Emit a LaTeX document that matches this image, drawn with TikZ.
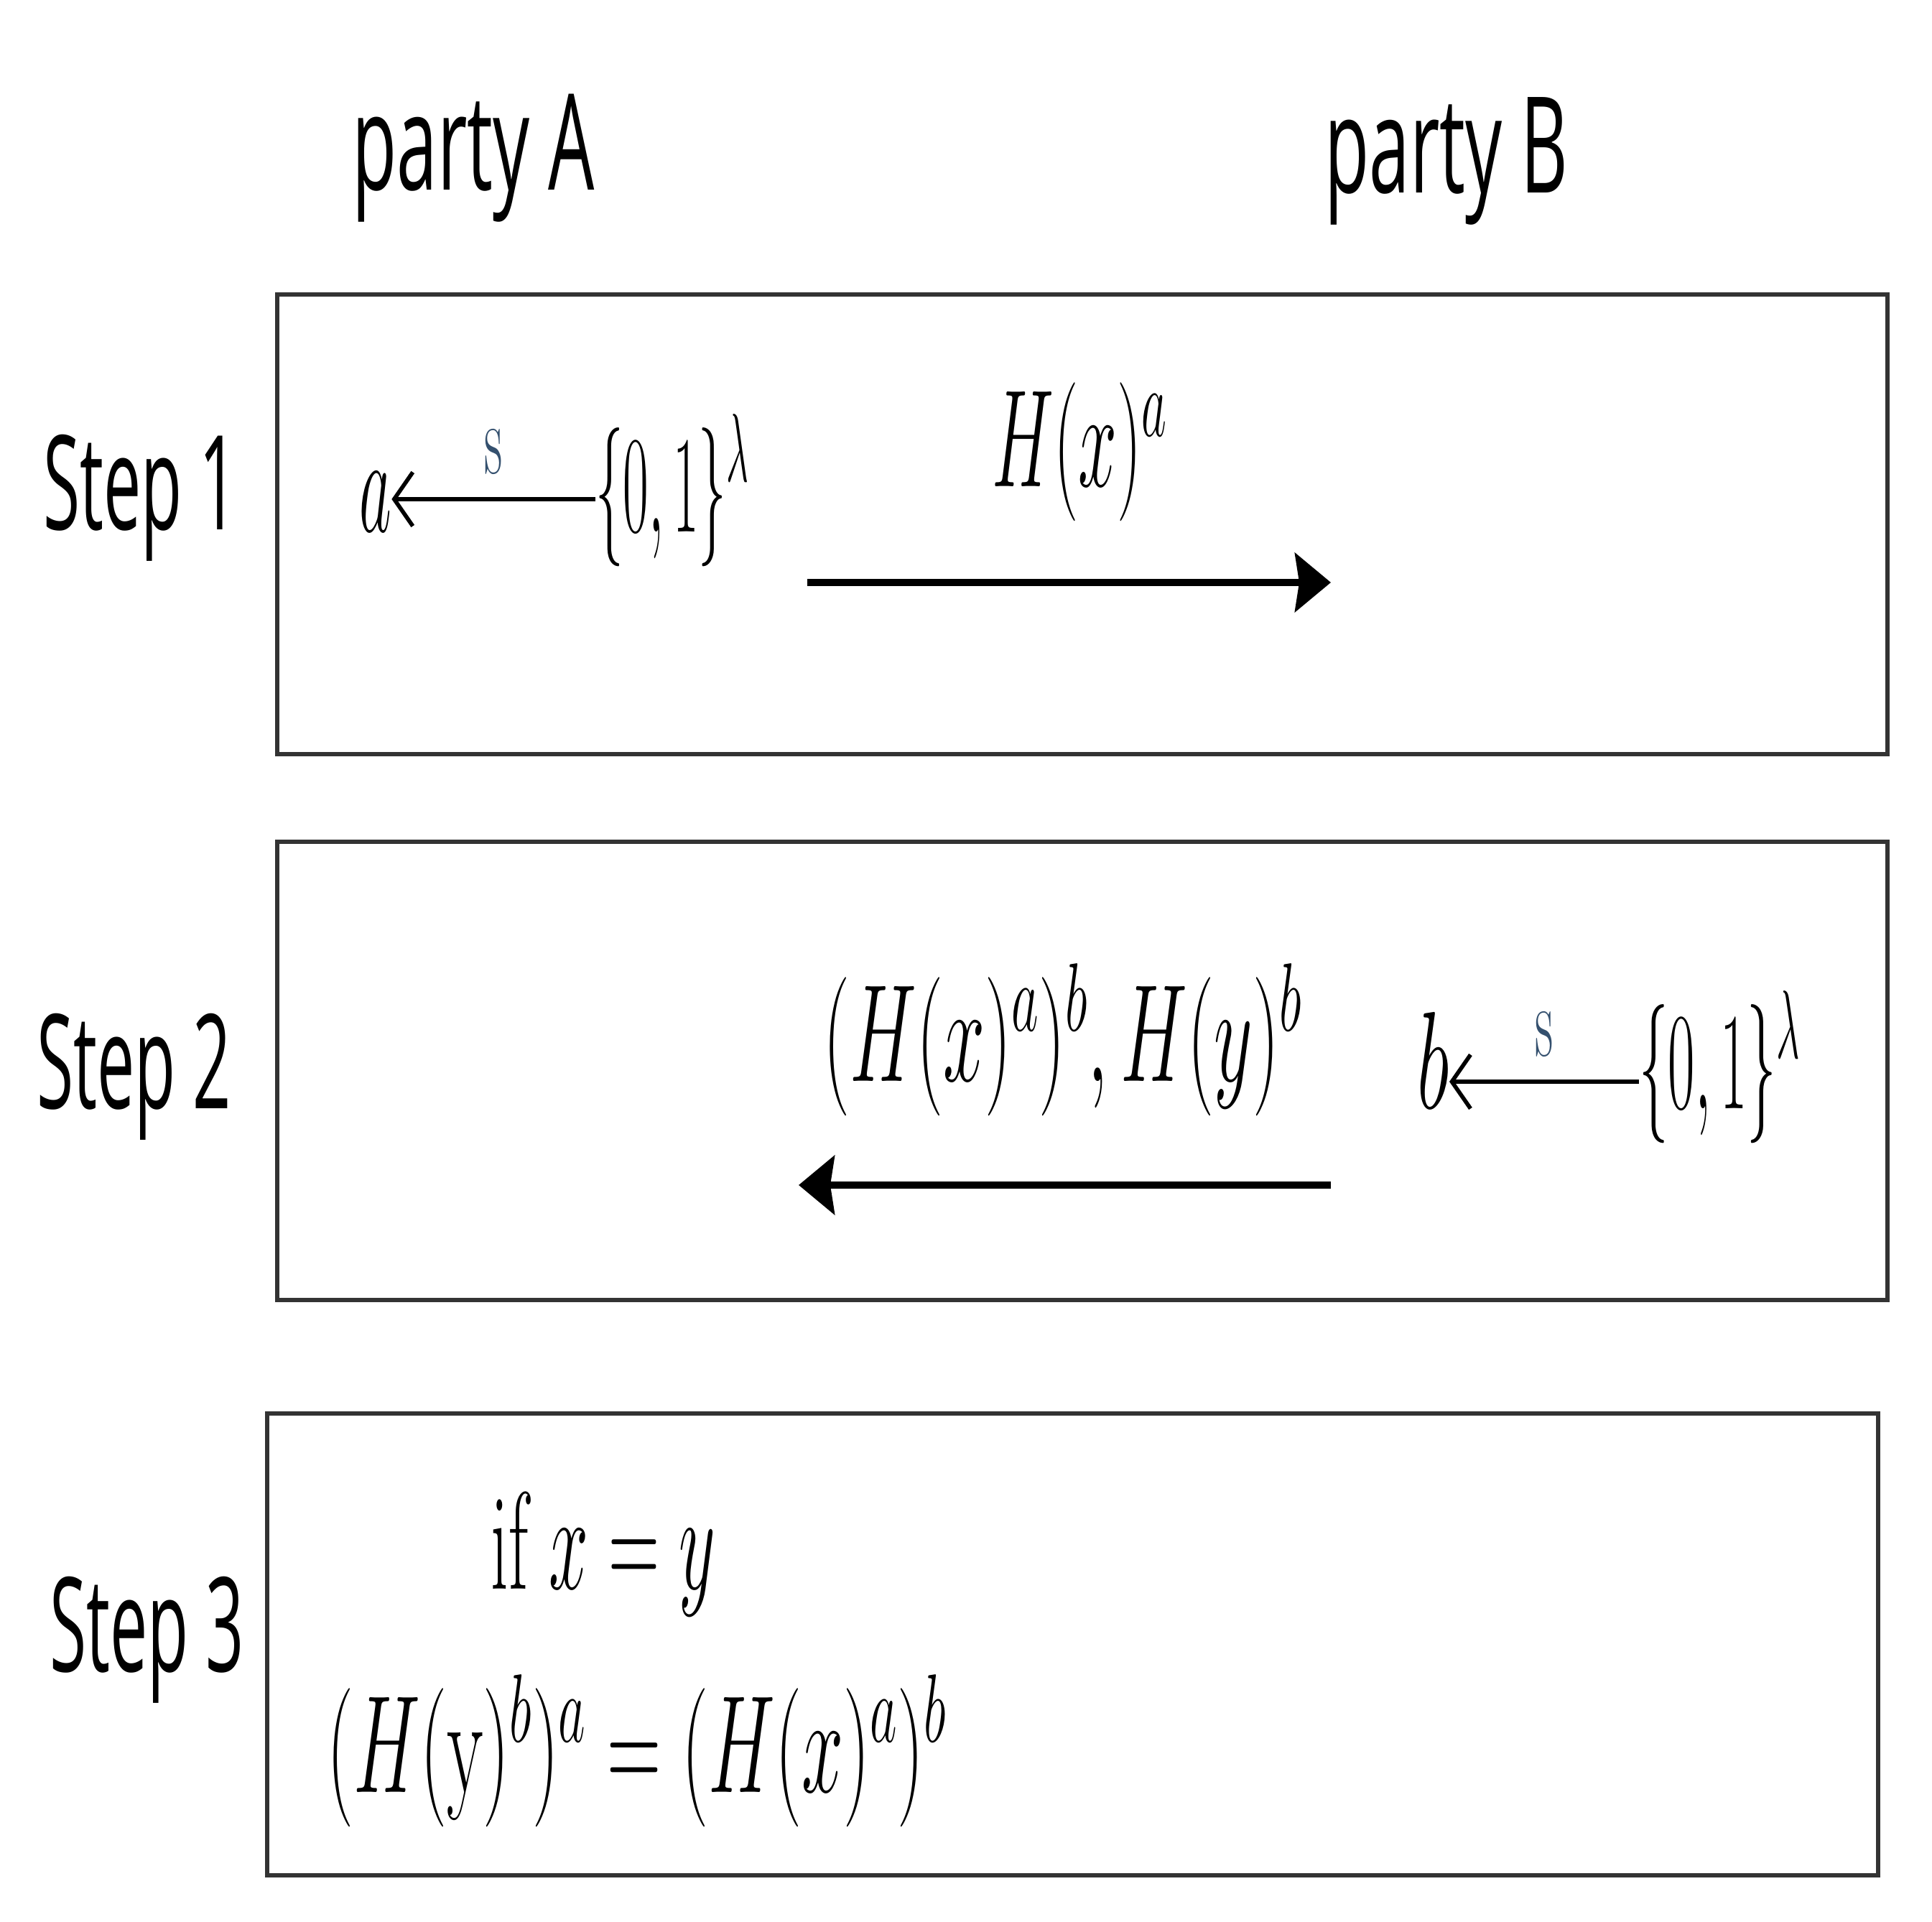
\RequirePackage{fix-cm}
\documentclass[tikz,border=0pt]{standalone}
\usepackage{amsmath}
\usepackage{fontspec}
\newfontfamily\etiq{Open Sans}
\usetikzlibrary{arrows.meta}
\definecolor{azul}{HTML}{34506E}

\begin{document}
\begin{tikzpicture}[
    caja/.style={draw=black!80, line width=1.8pt},
    parte/.style={font=\etiq\fontsize{53}{60}\selectfont, anchor=base west, inner sep=0pt, xscale=0.545},
    paso/.style={font=\etiq\fontsize{52}{60}\selectfont, anchor=base west, inner sep=0pt, xscale=0.51},
    formula/.style={font=\fontsize{55}{60}\selectfont, anchor=base west, inner sep=0pt},
    sello/.style={midway, above=0.32cm, inner sep=0pt, text=azul, font=\fontsize{40}{44}\selectfont, xscale=0.5},
    mensaje/.style={line width=2.8pt, -{Stealth[length=0.5cm, width=0.82cm, inset=0.06cm]}},
    muestra/.style={line width=1.6pt, -{Straight Barb[length=0.26cm, width=0.75cm]}}]
  \useasboundingbox (0,0) rectangle (26.90,26.76);

  % Partes
  \node[parte] (pA) at (4.90,24.11) {party A};
  \node[parte] (pB) at (18.44,24.07) {party B};

  % Pasos
  \node[paso] (s1) at (0.60,19.38) {Step 1};
  \node[paso] (s2) at (0.51,11.32) {Step 2};
  \node[paso] (s3) at (0.69,3.48) {Step 3};

  % Cajas
  \draw[caja] (3.86,16.26) rectangle (26.28,22.66);
  \draw[caja] (3.86,8.66) rectangle (26.28,15.04);
  \draw[caja] (3.72,0.65) rectangle (26.15,7.08);

  % Paso 1: A elige a y manda H(x)^a
  \node[formula, xscale=0.45] (a1) at (5.00,19.35) {$a$};
  \node[formula, xscale=0.40] (r1) at (8.29,19.35) {$\{0,1\}^{\lambda}$};
  \draw[muestra] ([yshift=0.46cm]r1.base west) -- ([yshift=0.46cm]a1.base east) node[sello] {s};
  \node[formula, xscale=0.50] (h1) at (13.81,19.98) {$H(x)^{a}$};
  \coordinate (m1a) at (11.24,18.65);
  \coordinate (m1b) at (18.53,18.65);
  \draw[mensaje] (m1a) -- (m1b);

  % Paso 2: B elige b y responde
  \node[formula, xscale=0.54] (h2) at (11.46,11.70) {$(H(x)^{a})^{b},H(y)^{b}$};
  \node[formula, xscale=0.55] (b2) at (19.73,11.32) {$b$};
  \node[formula, xscale=0.42] (r2) at (22.82,11.32) {$\{0,1\}^{\lambda}$};
  \draw[muestra] ([yshift=0.38cm]r2.base west) -- ([yshift=0.38cm]b2.base east) node[sello] {s};
  \coordinate (m2a) at (18.53,10.26);
  \coordinate (m2b) at (11.12,10.26);
  \draw[mensaje] (m2a) -- (m2b);

  % Paso 3: comprobacion
  \node[formula, xscale=0.51] (c3) at (6.83,4.63) {$\mathrm{if}\ x=y$};
  \node[formula, xscale=0.54] (e3) at (4.55,1.80) {$(H(\mathrm{y})^{b})^{a}=(H(x)^{a})^{b}$};
\end{tikzpicture}
\end{document}
